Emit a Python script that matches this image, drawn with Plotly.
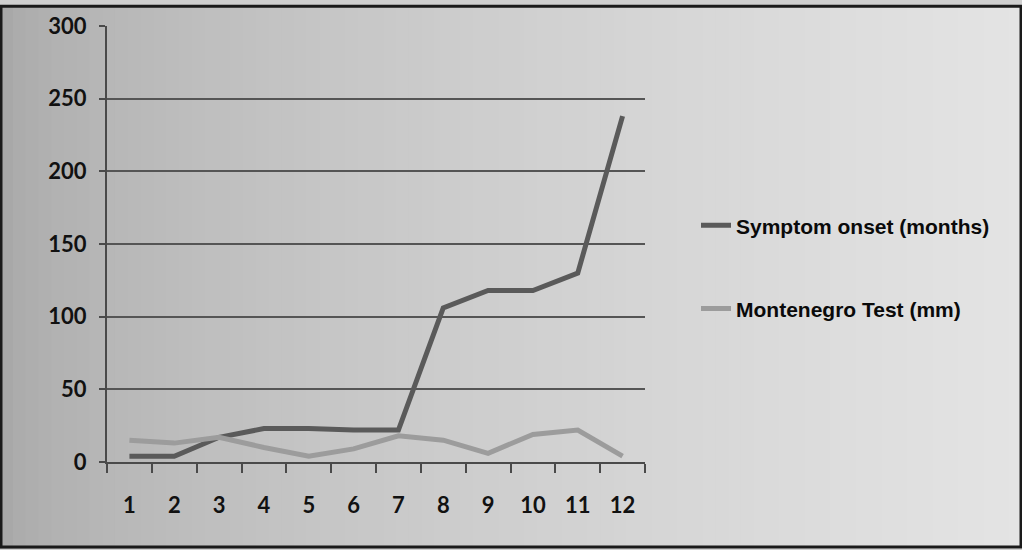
import plotly.graph_objects as go

# chart data
months = ["1", "2", "3", "4", "5", "6", "7", "8", "9", "10", "11", "12"]
symptom_onset = [4, 4, 17, 23, 23, 22, 22, 106, 118, 118, 130, 238]
montenegro_test = [15, 13, 17, 10, 4, 9, 18, 15, 6, 19, 22, 4]
y_ticks = [0, 50, 100, 150, 200, 250, 300]

W, H = 1022, 550
L, R, T, B = 107, 377, 21, 88
PW, PH = W - L - R, H - T - B


def px(x):
    return (x - L) / PW


def py(y):
    return (H - B - y) / PH


fig = go.Figure()

fig.add_trace(go.Scatter(
    x=months, y=symptom_onset, mode="lines", name="Symptom onset (months)",
    line=dict(color="#5a5a5a", width=5), legend="legend"
))
fig.add_trace(go.Scatter(
    x=months, y=montenegro_test, mode="lines", name="Montenegro Test (mm)",
    line=dict(color="#9c9c9c", width=5), legend="legend2"
))

# photographed paper background, darker on the left
shapes = []
steps = 80
for i in range(steps):
    t = i / (steps - 1)
    g = int(168 + (228 - 168) * (t ** 0.6))
    shapes.append(dict(
        type="rect", xref="paper", yref="paper", layer="below",
        x0=px(W * i / steps), x1=px(W * (i + 1) / steps + 1),
        y0=py(H), y1=py(0), line=dict(width=0),
        fillcolor=f"rgb({g},{g},{g})"
    ))
shapes.append(dict(
    type="rect", xref="paper", yref="paper", layer="above",
    x0=px(1), x1=px(W - 1), y0=py(H - 2), y1=py(1),
    line=dict(color="#1a1a1a", width=3), fillcolor="rgba(0,0,0,0)"
))

legend_font = dict(family="Liberation Sans, Arial", size=21, color="#0a0a0a",
                   weight="bold")
tick_font = dict(family="Lato, Open Sans", size=22, color="#111111",
                 weight="bold")

fig.update_layout(
    width=W, height=H,
    margin=dict(l=L, r=R, t=T, b=B),
    paper_bgcolor="#cfcfcf",
    plot_bgcolor="rgba(0,0,0,0)",
    shapes=shapes,
    showlegend=True,
    legend=dict(x=px(696), y=py(223), xanchor="left", yanchor="middle",
                bgcolor="rgba(0,0,0,0)", font=legend_font),
    legend2=dict(x=px(696), y=py(307), xanchor="left", yanchor="middle",
                 bgcolor="rgba(0,0,0,0)", font=legend_font),
    xaxis=dict(
        type="category", range=[-0.5, 11.5],
        showgrid=False, showline=True, linecolor="#4a4a4a", linewidth=2,
        ticks="outside", tickson="boundaries", ticklen=9, tickcolor="#4a4a4a",
        tickwidth=2, ticklabelstandoff=23, tickfont=tick_font,
    ),
    yaxis=dict(
        range=[0, 300], tickvals=y_ticks,
        showgrid=True, gridcolor="#555555", gridwidth=1.5,
        showline=True, linecolor="#4a4a4a", linewidth=2,
        ticks="outside", ticklen=6, tickcolor="#4a4a4a", tickwidth=1.5,
        ticklabelstandoff=8, zeroline=False, tickfont=tick_font,
    ),
)

fig.write_html(
    "out.html",
    config={"displayModeBar": False},
    post_script="document.body.style.margin='0';document.body.style.overflow='hidden';",
)
